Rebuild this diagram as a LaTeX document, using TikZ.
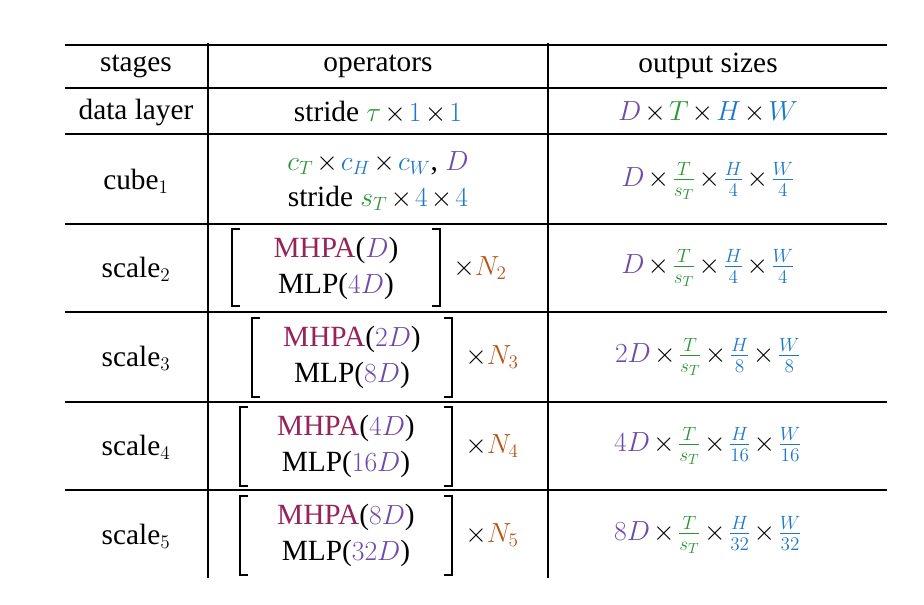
\documentclass[tikz,border=0pt]{standalone}
\usepackage{fontspec}
\setmainfont{Liberation Serif}
\definecolor{cp}{RGB}{110,75,170}
\definecolor{cg}{RGB}{40,150,50}
\definecolor{cb}{RGB}{30,120,200}
\definecolor{cm}{RGB}{150,35,90}
\definecolor{co}{RGB}{185,85,20}
\newcommand{\PD}[1]{\textcolor{cp}{#1}}
\newcommand{\G}[1]{\textcolor{cg}{#1}}
\newcommand{\B}[1]{\textcolor{cb}{#1}}
\newcommand{\X}{\mskip-2mu\times\mskip-2mu}
\begin{document}
\begin{tikzpicture}[x=0.75pt,y=-0.75pt,
  txt/.style={font=\fontsize{22}{27}\selectfont, align=center, inner sep=0},
  rule/.style={line width=0.8pt},
  brk/.style={line width=1pt}]
\useasboundingbox (0,0) rectangle (924,604);
\draw[rule] (65,45) -- (887,45);
\draw[line width=2.2pt] (65,88) -- (887,88);
\foreach \y in {134,224,312,402,490} \draw[rule] (65,\y) -- (887,\y);
\draw[rule] (208,43) -- (208,578);
\draw[rule] (548,43) -- (548,578);
% header
\node[txt] (h1) at (136,66) {stages};
\node[txt] (h2) at (378,66) {operators};
\node[txt] (h3) at (708,66) {output sizes};
% data layer
\node[txt] (s0) at (136,112) {data layer};
\node[txt] (o0) at (378,112) {stride $\G{\tau}\X\B{1}\X\B{1}$};
\node[txt] (z0) at (708,112) {$\PD{D}\X\G{T}\X\B{H}\X\B{W}$};
% cube
\node[txt] (s1) at (136,181) {cube$_1$};
\node[txt] (o1) at (378,181) {$\G{c_T}\X\B{c_H}\X\B{c_W}$, $\PD{D}$\\ stride $\G{s_T}\X\B{4}\X\B{4}$};
\node[txt] (z1) at (708,181) {$\PD{D}\X\G{\frac{T}{s_T}}\X\B{\frac{H}{4}}\X\B{\frac{W}{4}}$};
% scale2
\node[txt] (s2) at (136,269) {scale$_2$};
\node[txt] (o2) at (336,268) {\textcolor{cm}{MHPA}(\PD{$D$})\\ MLP(\PD{$4D$})};
\node[txt] (n2) at (480,268) {$\times\textcolor{co}{N_2}$};
\node[txt] (z2) at (708,268) {$\PD{D}\X\G{\frac{T}{s_T}}\X\B{\frac{H}{4}}\X\B{\frac{W}{4}}$};
\draw[brk] (240,229) -- (232,229) -- (232,306) -- (240,306);
\draw[brk] (432,229) -- (440,229) -- (440,306) -- (432,306);
% scale3
\node[txt] (s3) at (136,358) {scale$_3$};
\node[txt] (o3) at (352,357) {\textcolor{cm}{MHPA}(\PD{$2D$})\\ MLP(\PD{$8D$})};
\node[txt] (n3) at (492,357) {$\times\textcolor{co}{N_3}$};
\node[txt] (z3) at (708,357) {$\PD{2D}\X\G{\frac{T}{s_T}}\X\B{\frac{H}{8}}\X\B{\frac{W}{8}}$};
\draw[brk] (260,318) -- (252,318) -- (252,397) -- (260,397);
\draw[brk] (444,318) -- (452,318) -- (452,397) -- (444,397);
% scale4
\node[txt] (s4) at (136,447) {scale$_4$};
\node[txt] (o4) at (346,446) {\textcolor{cm}{MHPA}(\PD{$4D$})\\ MLP(\PD{$16D$})};
\node[txt] (n4) at (492,446) {$\times\textcolor{co}{N_4}$};
\node[txt] (z4) at (708,446) {$\PD{4D}\X\G{\frac{T}{s_T}}\X\B{\frac{H}{16}}\X\B{\frac{W}{16}}$};
\draw[brk] (248,407) -- (240,407) -- (240,486) -- (248,486);
\draw[brk] (444,407) -- (452,407) -- (452,486) -- (444,486);
% scale5
\node[txt] (s5) at (136,536) {scale$_5$};
\node[txt] (o5) at (346,535) {\textcolor{cm}{MHPA}(\PD{$8D$})\\ MLP(\PD{$32D$})};
\node[txt] (n5) at (492,535) {$\times\textcolor{co}{N_5}$};
\node[txt] (z5) at (708,535) {$\PD{8D}\X\G{\frac{T}{s_T}}\X\B{\frac{H}{32}}\X\B{\frac{W}{32}}$};
\draw[brk] (248,496) -- (240,496) -- (240,575) -- (248,575);
\draw[brk] (444,496) -- (452,496) -- (452,575) -- (444,575);
\end{tikzpicture}
\end{document}
